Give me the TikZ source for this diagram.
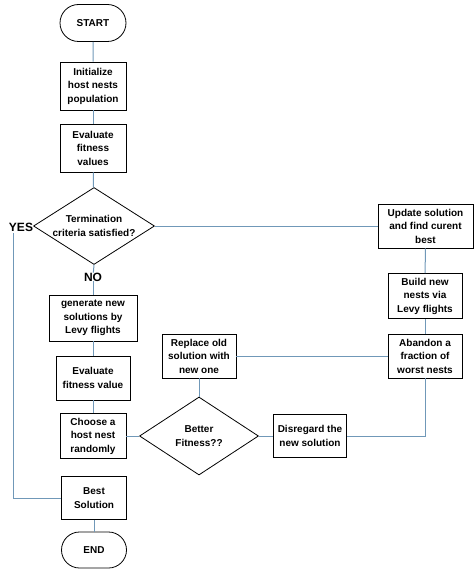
\documentclass[tikz,border=0pt]{standalone}
\usepackage{fontspec}
\setmainfont{Liberation Sans}
\usetikzlibrary{shapes.geometric,shapes.misc}
\definecolor{linkblue}{RGB}{112,152,184}

\begin{document}
\begin{tikzpicture}[x=1pt,y=-1pt,
	every node/.style={font=\bfseries\fontsize{10}{13.5}\selectfont,align=center,inner sep=0pt},
	box/.style={draw,line width=0.8pt,minimum width=#1},
	term/.style={draw,line width=0.8pt,rounded rectangle,minimum width=66pt,minimum height=37pt},
	decide/.style={draw,line width=0.8pt,diamond,shape aspect=1.6,minimum width=#1,minimum height=77pt},
	link/.style={draw=linkblue,line width=1pt},
	answer/.style={font=\bfseries\fontsize{12}{14}\selectfont}]
	\useasboundingbox (0,0) rectangle (474,572);

	% main column
	\node[term] (start) at (93,23) {START};
	\node[box=66pt,minimum height=48pt] (init) at (93,86) {Initialize\\host nests\\population};
	\node[box=66pt,minimum height=48pt] (evalall) at (93,148) {Evaluate\\fitness\\values};
	\node[decide=121pt] (stop) at (94,226) {Termination\\criteria satisfied?};
	\node[answer] (no) at (93,277) {NO};
	\node[answer] (yes) at (21,227) {YES};
	\node[box=88pt,minimum height=46pt] (levy) at (93,318) {generate new\\solutions by\\Levy flights};
	\node[box=74pt,minimum height=44pt] (evalone) at (93,378) {Evaluate\\fitness value};
	\node[box=66pt,minimum height=45pt] (choose) at (93,436) {Choose a\\host nest\\randomly};
	\node[box=65pt,minimum height=43pt] (best) at (94,498) {Best\\Solution};
	\node[term,minimum width=65pt,minimum height=36pt] (end) at (94,550) {END};

	% comparison
	\node[decide=119pt,minimum height=78pt] (better) at (199,436) {Better\\Fitness??};
	\node[box=74pt,minimum height=44pt] (replace) at (199,356) {Replace old\\solution with\\new one};
	\node[box=73pt,minimum height=43pt] (discard) at (310,436) {Disregard the\\new solution};

	% right column
	\node[box=95pt,minimum height=44pt] (update) at (425.5,226) {Update solution\\and find curent\\best};
	\node[box=74pt,minimum height=45pt] (build) at (425,296) {Build new\\nests via\\Levy flights};
	\node[box=74pt,minimum height=44pt] (abandon) at (425,356) {Abandon a\\fraction of\\worst nests};

	\coordinate (yesdown) at (13,233);

	\draw[link] (start) -- (init);
	\draw[link] (init) -- (evalall);
	\draw[link] (evalall) -- (stop);
	\draw[link] (stop.south) -- (no);
	\draw[link] (no) -- (levy);
	\draw[link] (levy) -- (evalone);
	\draw[link] (evalone) -- (choose);
	\draw[link] (choose) -- (better);
	\draw[link] (better) -- (replace);
	\draw[link] (better) -- (discard);
	\draw[link] (replace) -- (abandon);
	\draw[link] (discard.east) -| (abandon.south);
	\draw[link] (abandon) -- (build);
	\draw[link] (build) -- (update);
	\draw[link] (update) -- (stop.east);
	\draw[link] (yesdown) |- (best.west);
	\draw[link] (best) -- (end);
\end{tikzpicture}
\end{document}
